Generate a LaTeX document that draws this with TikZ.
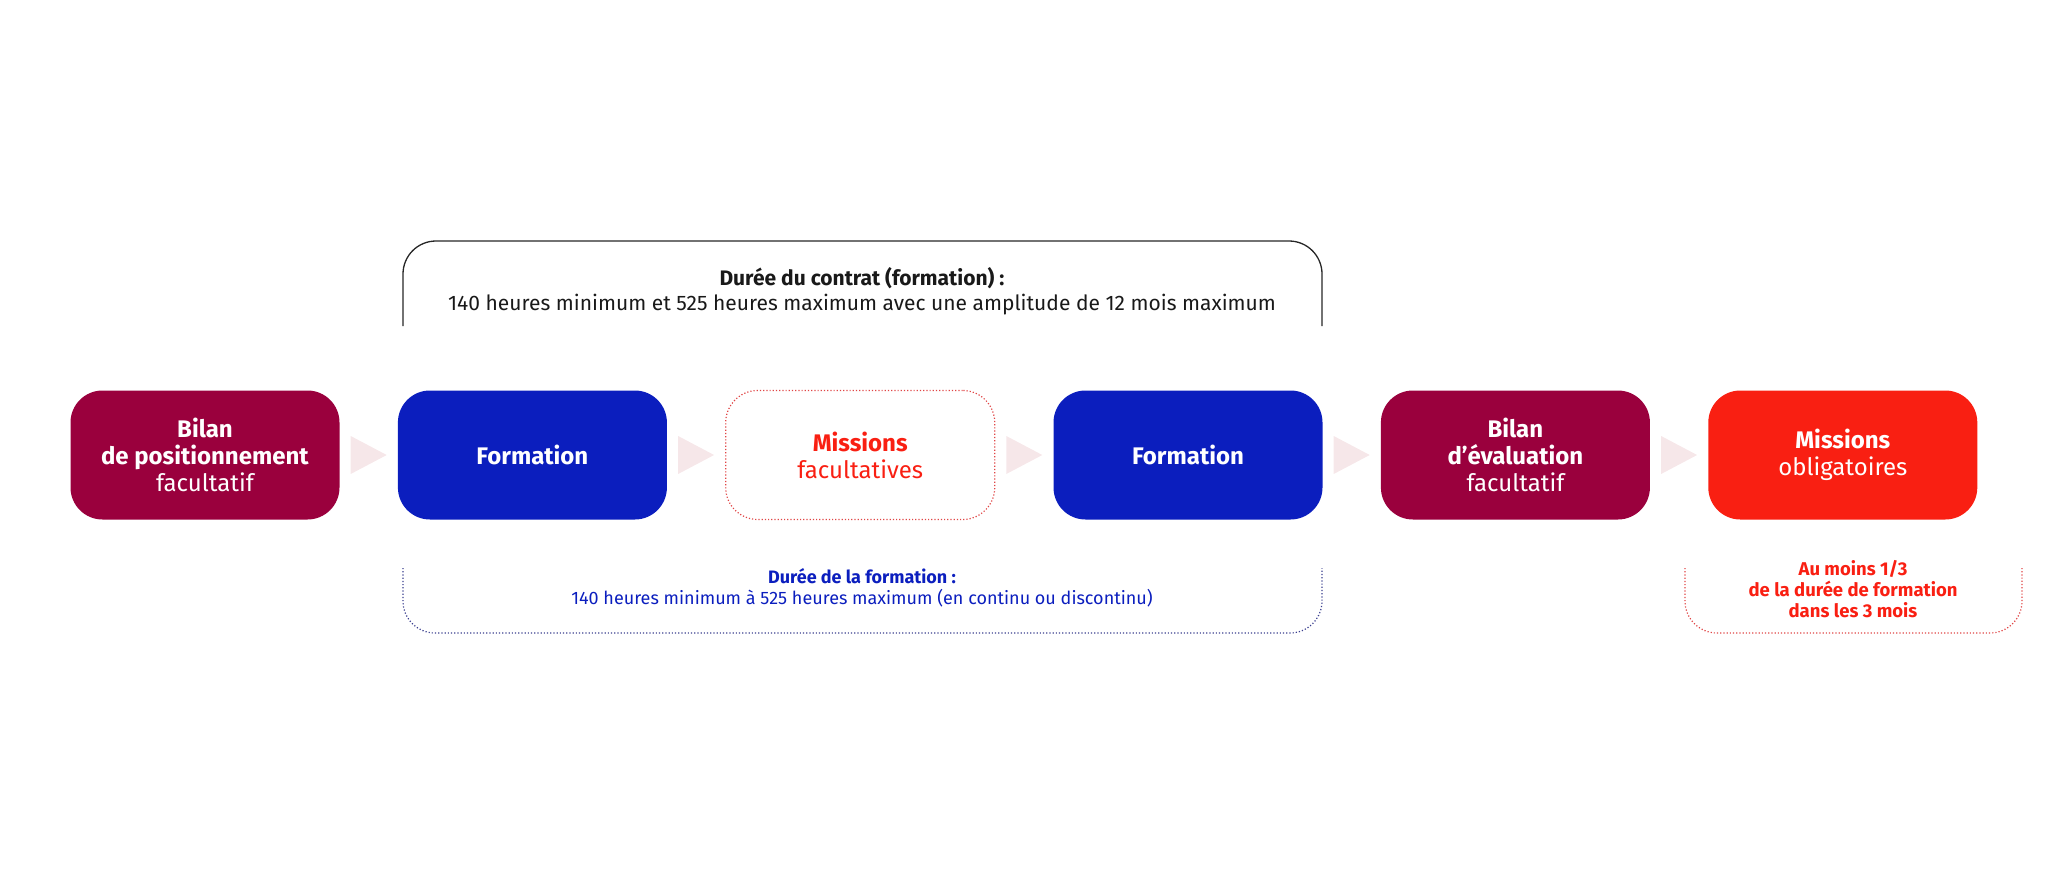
\documentclass[tikz,border=0pt]{standalone}
\usepackage{fontspec}
\setmainfont{Fira Sans}
\usepackage{tikz}
\usetikzlibrary{positioning, calc}

\definecolor{bilanred}{HTML}{9A003D}
\definecolor{formblue}{HTML}{0B1EBE}
\definecolor{missred}{HTML}{F91F12}
\definecolor{arrowpink}{HTML}{F6E7E9}
\definecolor{dotblue}{HTML}{3B3F8F}
\definecolor{dotred}{HTML}{E04646}

\begin{document}
\begin{tikzpicture}[x=1pt, y=-1pt, node distance=58pt,
  step box/.style={rectangle, rounded corners=32pt, minimum width=269pt,
    minimum height=129pt, align=center, text=white,
    font=\fontsize{24}{27}\selectfont},
  bilan box/.style={step box, fill=bilanred},
  form box/.style={step box, fill=formblue},
  miss box/.style={step box, fill=missred},
  opt box/.style={step box, draw=dotred, line width=1.2pt, dotted, text=missred},
  arrowtip/.style={fill=arrowpink}]

\useasboundingbox (0,0) rectangle (2048,883);

\node[bilan box] (b1) at (205,455) {\textbf{Bilan}\\\textbf{de positionnement}\\facultatif};
\node[form box] (b2) [right=of b1] {\textbf{Formation}};
\node[opt box] (b3) [right=of b2] {\textbf{Missions}\\facultatives};
\node[form box] (b4) [right=of b3] {\textbf{Formation}};
\node[bilan box] (b5) [right=of b4] {\textbf{Bilan}\\\textbf{d’évaluation}\\facultatif};
\node[miss box] (b6) [right=of b5] {\textbf{Missions}\\obligatoires};

% arrows between the steps
\foreach \a/\b in {b1/b2, b2/b3, b3/b4, b4/b5, b5/b6}{
  \path (\a.east) -- (\b.west) coordinate[pos=0.5] (m);
  \fill[arrowtip] ($(m)+(-18,-19)$) -- ++(36,19) -- ++(-36,19) -- cycle;
}

% contract duration
\draw[line width=1.3pt, black!85, rounded corners=33pt]
  (403,326) -- (403,241) -- (1322,241) -- (1322,326);
\node[align=center, text=black!90, font=\fontsize{21}{25}\selectfont] (contrat) at (862,291)
  {\textbf{Durée du contrat (formation) :}\\140 heures minimum et 525 heures maximum avec une amplitude de 12 mois maximum};

% training duration
\draw[line width=1.2pt, dotblue, dotted, rounded corners=32pt]
  (403,568) -- (403,633) -- (1322,633) -- (1322,568);
\node[align=center, text=formblue, font=\fontsize{18}{21}\selectfont] (duree) at (862,588)
  {\textbf{Durée de la formation :}\\140 heures minimum à 525 heures maximum (en continu ou discontinu)};

% mandatory missions
\draw[line width=1.2pt, dotred, dotted, rounded corners=32pt]
  (1685,568) -- (1685,633) -- (2022,633) -- (2022,568);
\node[align=center, text=missred, font=\bfseries\fontsize{18.5}{21}\selectfont] (tiers) at (1853,589)
  {Au moins 1/3\\de la durée de formation\\dans les 3 mois};

\end{tikzpicture}
\end{document}
